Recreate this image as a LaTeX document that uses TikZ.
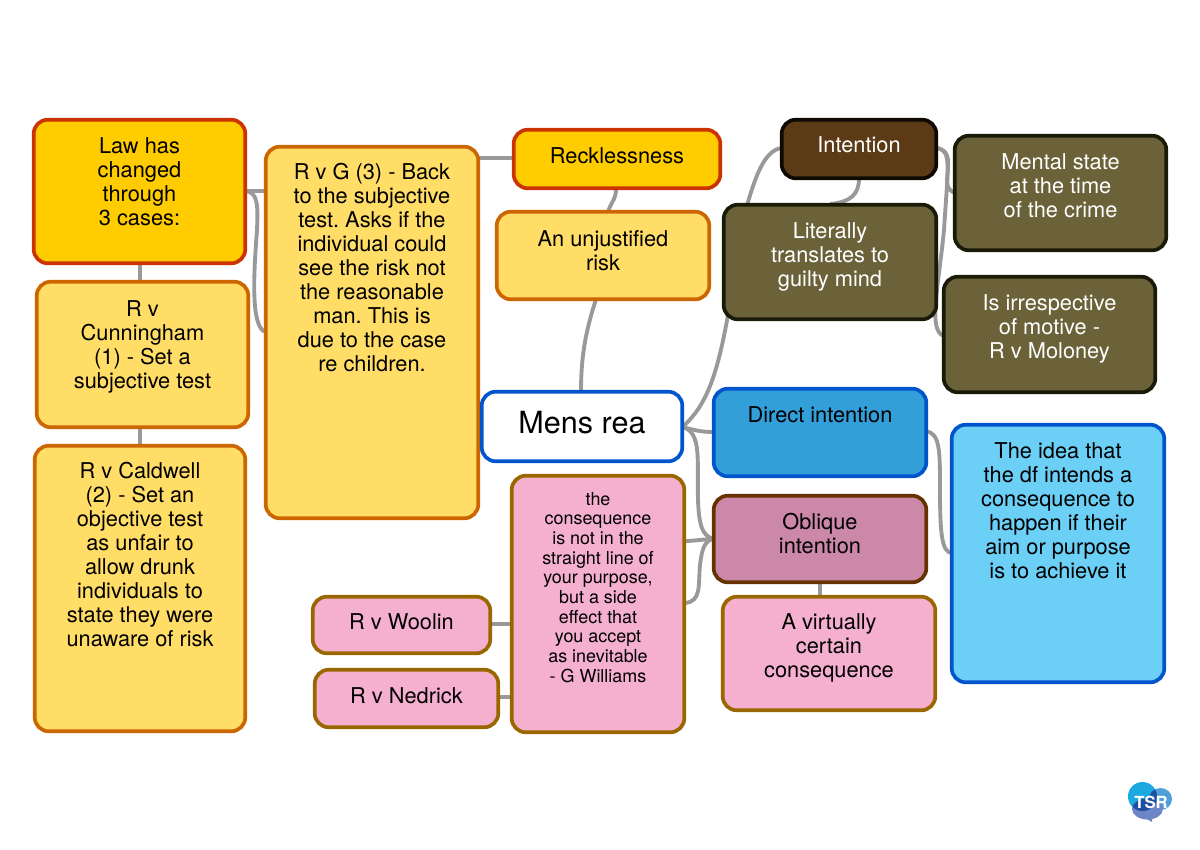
\documentclass[tikz,border=0pt]{standalone}
\usepackage{fontspec}
\setmainfont{TeX Gyre Heros}
\usetikzlibrary{positioning,backgrounds}
\frenchspacing

\newdimen\px
\px=0.02cm
% width, height, first baseline, text
\newcommand{\toptext}[4]{\parbox[c][#2\px][t]{#1\px}{\centering\rule{0pt}{#3\px}#4}}

\definecolor{redline}{HTML}{CC3300}
\definecolor{amber}{HTML}{FFCC00}
\definecolor{sand}{HTML}{FFDD66}
\definecolor{orangeline}{HTML}{CC6600}
\definecolor{blueline}{HTML}{0055CC}
\definecolor{umber}{HTML}{5C3A15}
\definecolor{olive}{HTML}{6B6239}
\definecolor{darkline}{HTML}{1A1A08}
\definecolor{midblue}{HTML}{339FD9}
\definecolor{skyblue}{HTML}{6CCFF6}
\definecolor{mauve}{HTML}{CC88A8}
\definecolor{pinkfill}{HTML}{F4B0CE}
\definecolor{brownline}{HTML}{663300}
\definecolor{goldline}{HTML}{996600}
\definecolor{linkgray}{HTML}{999999}
\definecolor{logolight}{HTML}{1CA8E0}
\definecolor{logoright}{HTML}{4FA0D8}
\definecolor{logolow}{HTML}{6C86C8}
\definecolor{logodark}{HTML}{1E4FA0}

\tikzset{
    box/.style={draw, rounded corners=8pt, line width=2.1pt, inner sep=0.026cm, outer sep=0pt,
        font=\fontsize{12.4pt}{13.7pt}\selectfont},
    lawbox/.style={box, fill=amber, draw=redline},
    casebox/.style={box, fill=sand, draw=orangeline},
    rootbox/.style={box, fill=white, draw=blueline, font=\fontsize{17.4pt}{20pt}\selectfont},
    intentbox/.style={box, fill=umber, draw=black!85!umber, text=white},
    olivebox/.style={box, fill=olive, draw=darkline, text=white},
    directbox/.style={box, fill=midblue, draw=blueline},
    ideabox/.style={box, fill=skyblue, draw=blueline},
    obliquebox/.style={box, fill=mauve, draw=brownline},
    pinkbox/.style={box, fill=pinkfill, draw=goldline},
    link/.style={draw=linkgray, line width=2.2pt},
}

\begin{document}
\begin{tikzpicture}[x=0.02cm, y=-0.02cm]
    \useasboundingbox (0,0) rectangle (1200,849);

    \node[lawbox] (law) at (139.5,191.5) {\toptext{209}{141}{32}{Law has\\changed\\through\\3 cases:}};
    \node[casebox] (cunningham) at (142.5,354.5) {\toptext{209}{143}{33}{R v\\Cunningham\\(1) - Set a\\subjective test}};
    \node[casebox] (caldwell) at (140,588.5) {\toptext{208}{283}{31}{R v Caldwell\\(2) - Set an\\objective test\\as unfair to\\allow drunk\\individuals to\\state they were\\unaware of risk}};
    \node[casebox] (rvg) at (372,332.5) {\toptext{210}{369}{31}{R v G (3) - Back\\to the subjective\\test. Asks if the\\individual could\\see the risk not\\the reasonable\\man. This is\\due to the case\\re children.}};
    \node[lawbox] (reckless) at (617,159) {\toptext{204}{56}{32}{Recklessness}};
    \node[casebox] (unjust) at (603,255.5) {\toptext{210}{85}{33}{An unjustified\\risk}};
    \node[rootbox] (mens) at (582,426.5) {\toptext{198}{67}{40}{Mens rea}};

    \node[intentbox] (intention) at (859,149) {\toptext{152}{56}{31}{Intention}};
    \node[olivebox] (literally) at (830,262) {\toptext{210}{112}{32}{Literally\\translates to\\guilty mind}};
    \node[olivebox] (mental) at (1060.5,193) {\toptext{209}{112}{32}{Mental state\\at the time\\of the crime}};
    \node[olivebox] (motive) at (1049.5,334.5) {\toptext{209}{113}{32}{Is irrespective\\of motive -\\R v Moloney}};

    \node[directbox] (direct) at (820,432.5) {\toptext{210}{85}{32}{Direct intention}};
    \node[ideabox] (idea) at (1058,553.5) {\toptext{210}{255}{32}{The idea that\\the df intends a\\consequence to\\happen if their\\aim or purpose\\is to achieve it}};
    \node[obliquebox] (oblique) at (820,539) {\toptext{210}{84}{32}{Oblique\\intention}};
    \node[pinkbox] (virtually) at (829,653.5) {\toptext{210}{111}{31}{A virtually\\certain\\consequence}};
    \node[pinkbox, font=\fontsize{10.2pt}{11.2pt}\selectfont] (sideeffect) at (598,604) {\toptext{170}{254}{28}{the\\consequence\\is not in the\\straight line of\\your purpose,\\but a side\\effect that\\you accept\\as inevitable\\- G Williams}};
    \node[pinkbox] (woolin) at (401.5,625) {\toptext{175}{54}{31}{R v Woolin}};
    \node[pinkbox] (nedrick) at (406.5,698.5) {\toptext{181}{55}{32}{R v Nedrick}};

    % connectors sit behind the boxes
    \begin{scope}[on background layer]
        \draw[link] (law.south -| 140,0) -- (cunningham.north -| 140,0);
        \draw[link] (cunningham.south -| 140,0) -- (caldwell.north -| 140,0);
        \draw[link] (law.east |- 0,191) -- (rvg.west |- 0,191);
        \draw[link] (law.east |- 0,191) .. controls (258,192) and (258,205) .. (257,230)
            .. controls (254,270) and (250,328) .. (rvg.west |- 0,332);
        \draw[link] (rvg.east |- 0,158) -- (reckless.west |- 0,158);
        \draw[link] (reckless.south -| 616,0) .. controls (616,200) and (612,200) .. (unjust.north -| 608,0);
        \draw[link] (unjust.south -| 596,0) .. controls (586,330) and (581,355) .. (mens.north -| 581,0);

        \draw[link] (mens.east |- 0,427) .. controls (708,405) and (718,370) .. (728,315)
            .. controls (733,285) and (738,235) .. (748,202)
            .. controls (756,175) and (765,150) .. (intention.west |- 0,148);
        \draw[link] (intention.south -| 859,0) .. controls (859,195) and (850,202) .. (830,204);
        \draw[link] (intention.east |- 0,148) .. controls (952,150) and (948,165) .. (947,180)
            .. controls (947,188) and (950,191) .. (mental.west |- 0,193);
        \draw[link] (intention.east |- 0,148) .. controls (952,150) and (948,165) .. (944,230)
            .. controls (938,290) and (928,330) .. (motive.west |- 0,336);
        \draw[link] (mens.east |- 0,427) .. controls (695,430) and (700,432) .. (direct.west |- 0,432);
        \draw[link] (mens.east |- 0,427) .. controls (702,432) and (697,460) .. (698,500)
            .. controls (699,525) and (702,536) .. (oblique.west |- 0,539);
        \draw[link] (direct.east |- 0,431) .. controls (940,434) and (940,450) .. (940,490)
            .. controls (940,535) and (942,552) .. (idea.west |- 0,553);
        \draw[link] (sideeffect.east |- 0,541) .. controls (695,541) and (705,539) .. (oblique.west |- 0,539);
        \draw[link] (sideeffect.east |- 0,603) .. controls (702,602) and (698,585) .. (700,565)
            .. controls (702,548) and (705,540) .. (oblique.west |- 0,539);
        \draw[link] (oblique.south -| 820,0) -- (virtually.north -| 820,0);
        \draw[link] (woolin.east |- 0,624) -- (sideeffect.west |- 0,624);
        \draw[link] (nedrick.east |- 0,697) -- (sideeffect.west |- 0,697);
    \end{scope}

    % logo
    \fill[logolight] (1142.5,796.5) circle (14.5);
    \fill[logoright] (1160.5,799) ellipse (11.5 and 11);
    \fill[logolow] (1147.5,809) ellipse (15.5 and 10.5);
    \fill[logolow] (1140,815) -- (1152,822) -- (1152,815) -- cycle;
    \begin{scope}
        \clip (1142.5,796.5) circle (14.5);
        \fill[logodark] (1147.5,809) ellipse (15.5 and 10.5);
        \fill[logodark] (1160.5,799) ellipse (11.5 and 11);
    \end{scope}
    \node[text=white, font=\bfseries\fontsize{9.5pt}{9.5pt}\selectfont, inner sep=0pt] (tsr) at (1151,802) {TSR};
\end{tikzpicture}
\end{document}
